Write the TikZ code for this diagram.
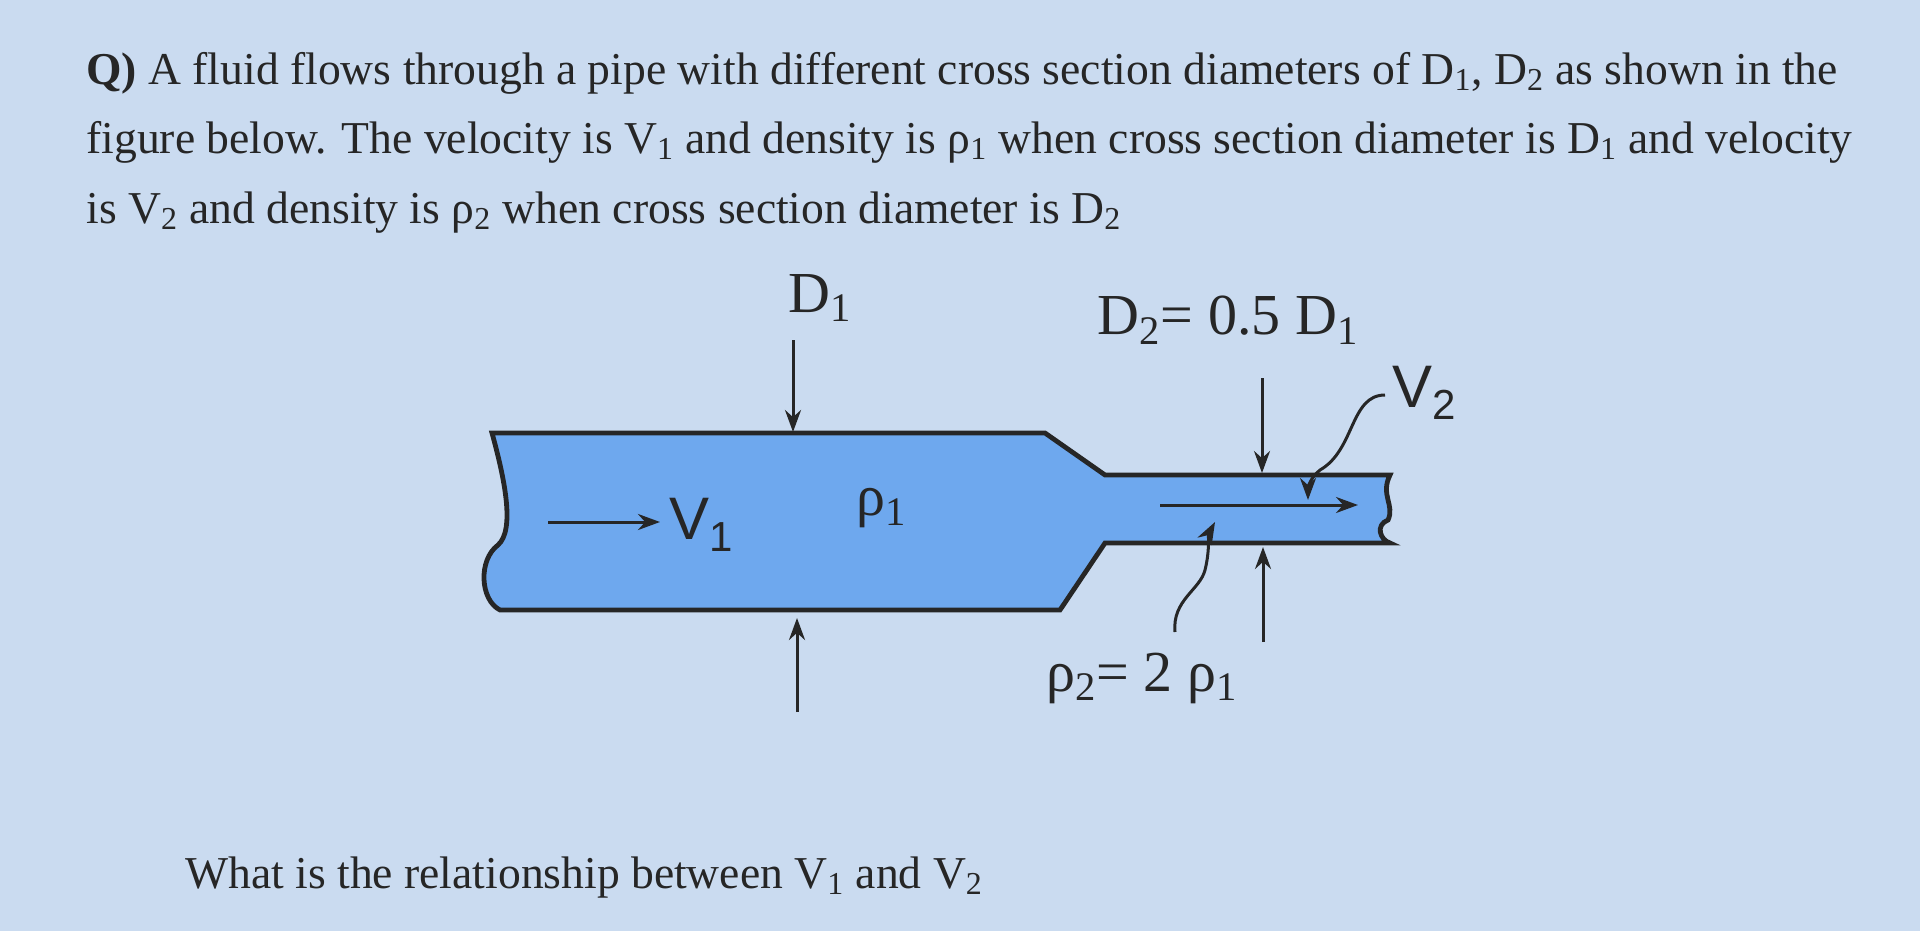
\documentclass[tikz,border=0pt]{standalone}
\usepackage{fontspec}
\setmainfont{Liberation Serif}
\setsansfont{Liberation Sans}
\usetikzlibrary{arrows.meta}
\begin{document}
\begin{tikzpicture}[x=0.5pt,y=-0.5pt,
  txt/.style={anchor=base west,inner sep=0pt,text=black!85,font=\fontsize{22.8}{26}\selectfont},
  lbl/.style={inner sep=0pt,text=black!85,font=\fontsize{29}{32}\selectfont},
  arr/.style={-{Stealth[length=11pt,width=8pt]},line width=1.5pt,draw=black!85},
  lead/.style={line width=1.5pt,draw=black!85}]
\definecolor{bg}{RGB}{202,219,240}
\definecolor{water}{RGB}{110,168,238}
\fill[bg] (0,0) rectangle (1920,931);
\useasboundingbox (0,0) rectangle (1920,931);
% text
\node[txt] (l1) at (86,84) {\textbf{Q)} A fluid flows through a pipe with different cross section diameters of D\textsubscript{1}, D\textsubscript{2} as shown in the};
\node[txt] (l2) at (86,153) {figure below. The velocity is V\textsubscript{1} and density is ρ\textsubscript{1} when cross section diameter is D\textsubscript{1} and velocity};
\node[txt] (l3) at (86,223) {is V\textsubscript{2} and density is ρ\textsubscript{2} when cross section diameter is D\textsubscript{2}};
\node[txt] (q) at (185,888) {What is the relationship between V\textsubscript{1} and V\textsubscript{2}};
% pipe
\draw[fill=water,line width=2.4pt,draw=black!85]
  (492,433) -- (1045,433) -- (1105,475) -- (1390,475)
  .. controls (1380,495) and (1395,505) .. (1388,520)
  .. controls (1375,525) and (1380,540) .. (1390,543)
  -- (1105,543) -- (1060,610) -- (500,610)
  .. controls (480,600) and (478,560) .. (498,545)
  .. controls (515,530) and (505,480) .. (492,433) -- cycle;
% D1
\node[lbl] (d1) at (820,298) {D\textsubscript{1}};
\coordinate (d1t) at (793,340); \coordinate (d1b) at (793,432);
\draw[arr] (d1t) -- (d1b);
\coordinate (d1u) at (797,712); \coordinate (d1v) at (797,618);
\draw[arr] (d1u) -- (d1v);
% D2
\node[lbl] (d2) at (1228,320) {D\textsubscript{2}= 0.5 D\textsubscript{1}};
\coordinate (d2t) at (1262,378); \coordinate (d2b) at (1262,473);
\draw[arr] (d2t) -- (d2b);
\coordinate (d2u) at (1263,642); \coordinate (d2v) at (1263,547);
\draw[arr] (d2u) -- (d2v);
% V1
\coordinate (v1s) at (548,522); \coordinate (v1e) at (660,522);
\draw[arr] (v1s) -- (v1e);
\node[lbl,font=\sffamily\fontsize{30}{32}\selectfont] (v1) at (702,525) {V\textsubscript{1}};
\node[lbl] (r1) at (882,508) {ρ\textsubscript{1}};
% V2
\coordinate (v2s) at (1160,505); \coordinate (v2e) at (1358,505);
\draw[arr] (v2s) -- (v2e);
\node[lbl,font=\sffamily\fontsize{30}{32}\selectfont] (v2) at (1425,393) {V\textsubscript{2}};
\coordinate (v2a) at (1385,395); \coordinate (v2b) at (1308,500);
\draw[arr] (v2a) .. controls (1350,395) and (1355,450) .. (1320,470) .. controls (1310,478) and (1308,488) .. (v2b);
% rho2
\node[lbl] (r2) at (1142,678) {ρ\textsubscript{2}= 2 ρ\textsubscript{1}};
\coordinate (r2a) at (1175,632); \coordinate (r2b) at (1215,522);
\draw[arr] (r2a) .. controls (1172,600) and (1200,590) .. (1205,570) .. controls (1210,550) and (1208,535) .. (r2b);
\end{tikzpicture}
\end{document}
